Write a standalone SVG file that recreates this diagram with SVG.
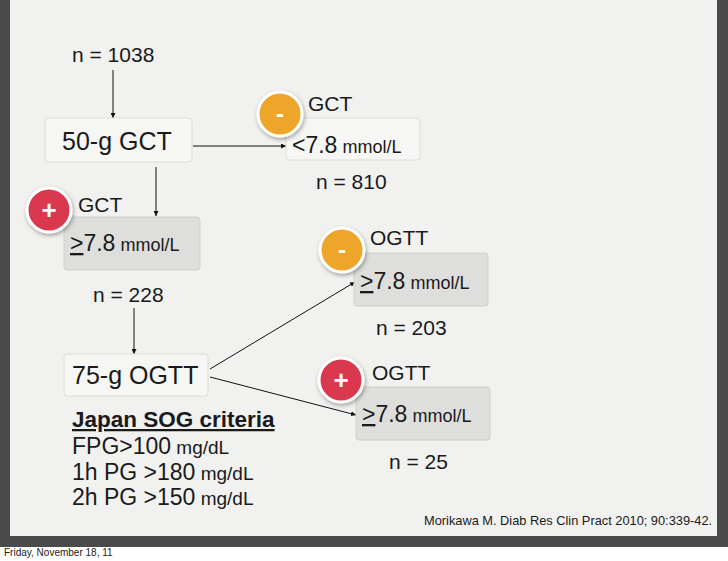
<svg xmlns="http://www.w3.org/2000/svg" width="728" height="561" viewBox="0 0 728 561">
<defs>
<style>
text{font-family:"Liberation Sans",Arial,sans-serif;fill:#1a1a1a}
.t20{font-size:21px}.t24{font-size:25px}.t22{font-size:23px}.s{font-size:19px}.m{font-size:18px}
.wbox{fill:#f6f6f4;stroke:#dcdcd8;stroke-width:1}
.gbox{fill:#dededc;stroke:#cfcfcc;stroke-width:1}
.c{stroke:#111;stroke-width:1;fill:none;marker-end:url(#a)}
.minus{fill:#eea62a;stroke:#fff;stroke-width:3}
.plus{fill:#d9384f;stroke:#fff;stroke-width:3}
.u{text-decoration:underline}
</style>
<marker id="a" viewBox="0 0 6 6" refX="6" refY="3" markerWidth="5" markerHeight="5" orient="auto"><path d="M0,0L6,3L0,6z" fill="#111"/></marker>
<filter id="sh" x="-30%" y="-30%" width="160%" height="160%"><feDropShadow dx="1" dy="2" stdDeviation="2" flood-opacity="0.35"/></filter>
</defs>
<rect width="728" height="561" fill="#fff"/>
<rect width="728" height="547" fill="#4a4a4a"/>
<rect x="10" y="0" width="707" height="536" fill="#f1f1ef"/>
<g id="connectors">
<line class="c" x1="113" y1="70" x2="113" y2="118"/>
<line class="c" x1="193" y1="146" x2="286" y2="146"/>
<line class="c" x1="156" y1="167" x2="156" y2="216"/>
<line class="c" x1="134" y1="308" x2="134" y2="354"/>
<line class="c" x1="210" y1="369" x2="355" y2="282"/>
<line class="c" x1="210" y1="377" x2="356" y2="415"/>
</g>
<g id="n1038"><text class="t20" x="72" y="62">n = 1038</text></g>
<g id="gct50"><rect class="wbox" x="45" y="118" width="147" height="44" rx="3"/><text class="t24" x="62" y="150">50-g GCT</text></g>
<g id="gctneg">
<rect class="wbox" x="286" y="118" width="134" height="42" rx="3"/>
<text class="t22" x="292" y="153">&lt;7.8<tspan class="m"> mmol/L</tspan></text>
<text class="t20" x="308" y="111">GCT</text>
<circle class="minus" cx="280" cy="114" r="22" filter="url(#sh)"/>
<text x="280" y="122" text-anchor="middle" style="font-size:24px;font-weight:bold;fill:#fff">-</text>
<text class="t20" x="316" y="189">n = 810</text>
</g>
<g id="gctpos">
<rect class="gbox" x="64" y="217" width="136" height="53" rx="3"/>
<text class="t22" x="70" y="251"><tspan class="u">&gt;</tspan>7.8<tspan class="m"> mmol/L</tspan></text>
<text class="t20" x="78" y="212">GCT</text>
<circle class="plus" cx="49" cy="210" r="22" filter="url(#sh)"/>
<text x="49" y="219" text-anchor="middle" style="font-size:26px;font-weight:bold;fill:#fff">+</text>
<text class="t20" x="93" y="302">n = 228</text>
</g>
<g id="ogtt75"><rect class="wbox" x="64" y="354" width="144" height="42" rx="3"/><text class="t24" x="72" y="384">75-g OGTT</text></g>
<g id="ogttneg">
<rect class="gbox" x="354" y="253" width="134" height="53" rx="3"/>
<text class="t22" x="360" y="289"><tspan class="u">&gt;</tspan>7.8<tspan class="m"> mmol/L</tspan></text>
<text class="t20" x="370" y="245">OGTT</text>
<circle class="minus" cx="342" cy="250" r="22" filter="url(#sh)"/>
<text x="342" y="258" text-anchor="middle" style="font-size:24px;font-weight:bold;fill:#fff">-</text>
<text class="t20" x="376" y="335">n = 203</text>
</g>
<g id="ogttpos">
<rect class="gbox" x="356" y="387" width="134" height="53" rx="3"/>
<text class="t22" x="362" y="422"><tspan class="u">&gt;</tspan>7.8<tspan class="m"> mmol/L</tspan></text>
<text class="t20" x="372" y="380">OGTT</text>
<circle class="plus" cx="341" cy="380" r="22" filter="url(#sh)"/>
<text x="341" y="389" text-anchor="middle" style="font-size:26px;font-weight:bold;fill:#fff">+</text>
<text class="t20" x="389" y="469">n = 25</text>
</g>
<g id="criteria">
<text class="u" x="72" y="427" style="font-size:22.5px;font-weight:bold">Japan SOG criteria</text>
<text x="72" y="454" style="font-size:23px">FPG&gt;100<tspan style="font-size:19px"> mg/dL</tspan></text>
<text x="72" y="480" style="font-size:23px">1h PG &gt;180<tspan style="font-size:19px"> mg/dL</tspan></text>
<text x="72" y="505" style="font-size:23px">2h PG &gt;150<tspan style="font-size:19px"> mg/dL</tspan></text>
</g>
<text x="424" y="525" style="font-size:12.8px">Morikawa M. Diab Res Clin Pract 2010; 90:339-42.</text>
<text x="4" y="556" style="font-size:10px">Friday, November 18, 11</text>
</svg>
